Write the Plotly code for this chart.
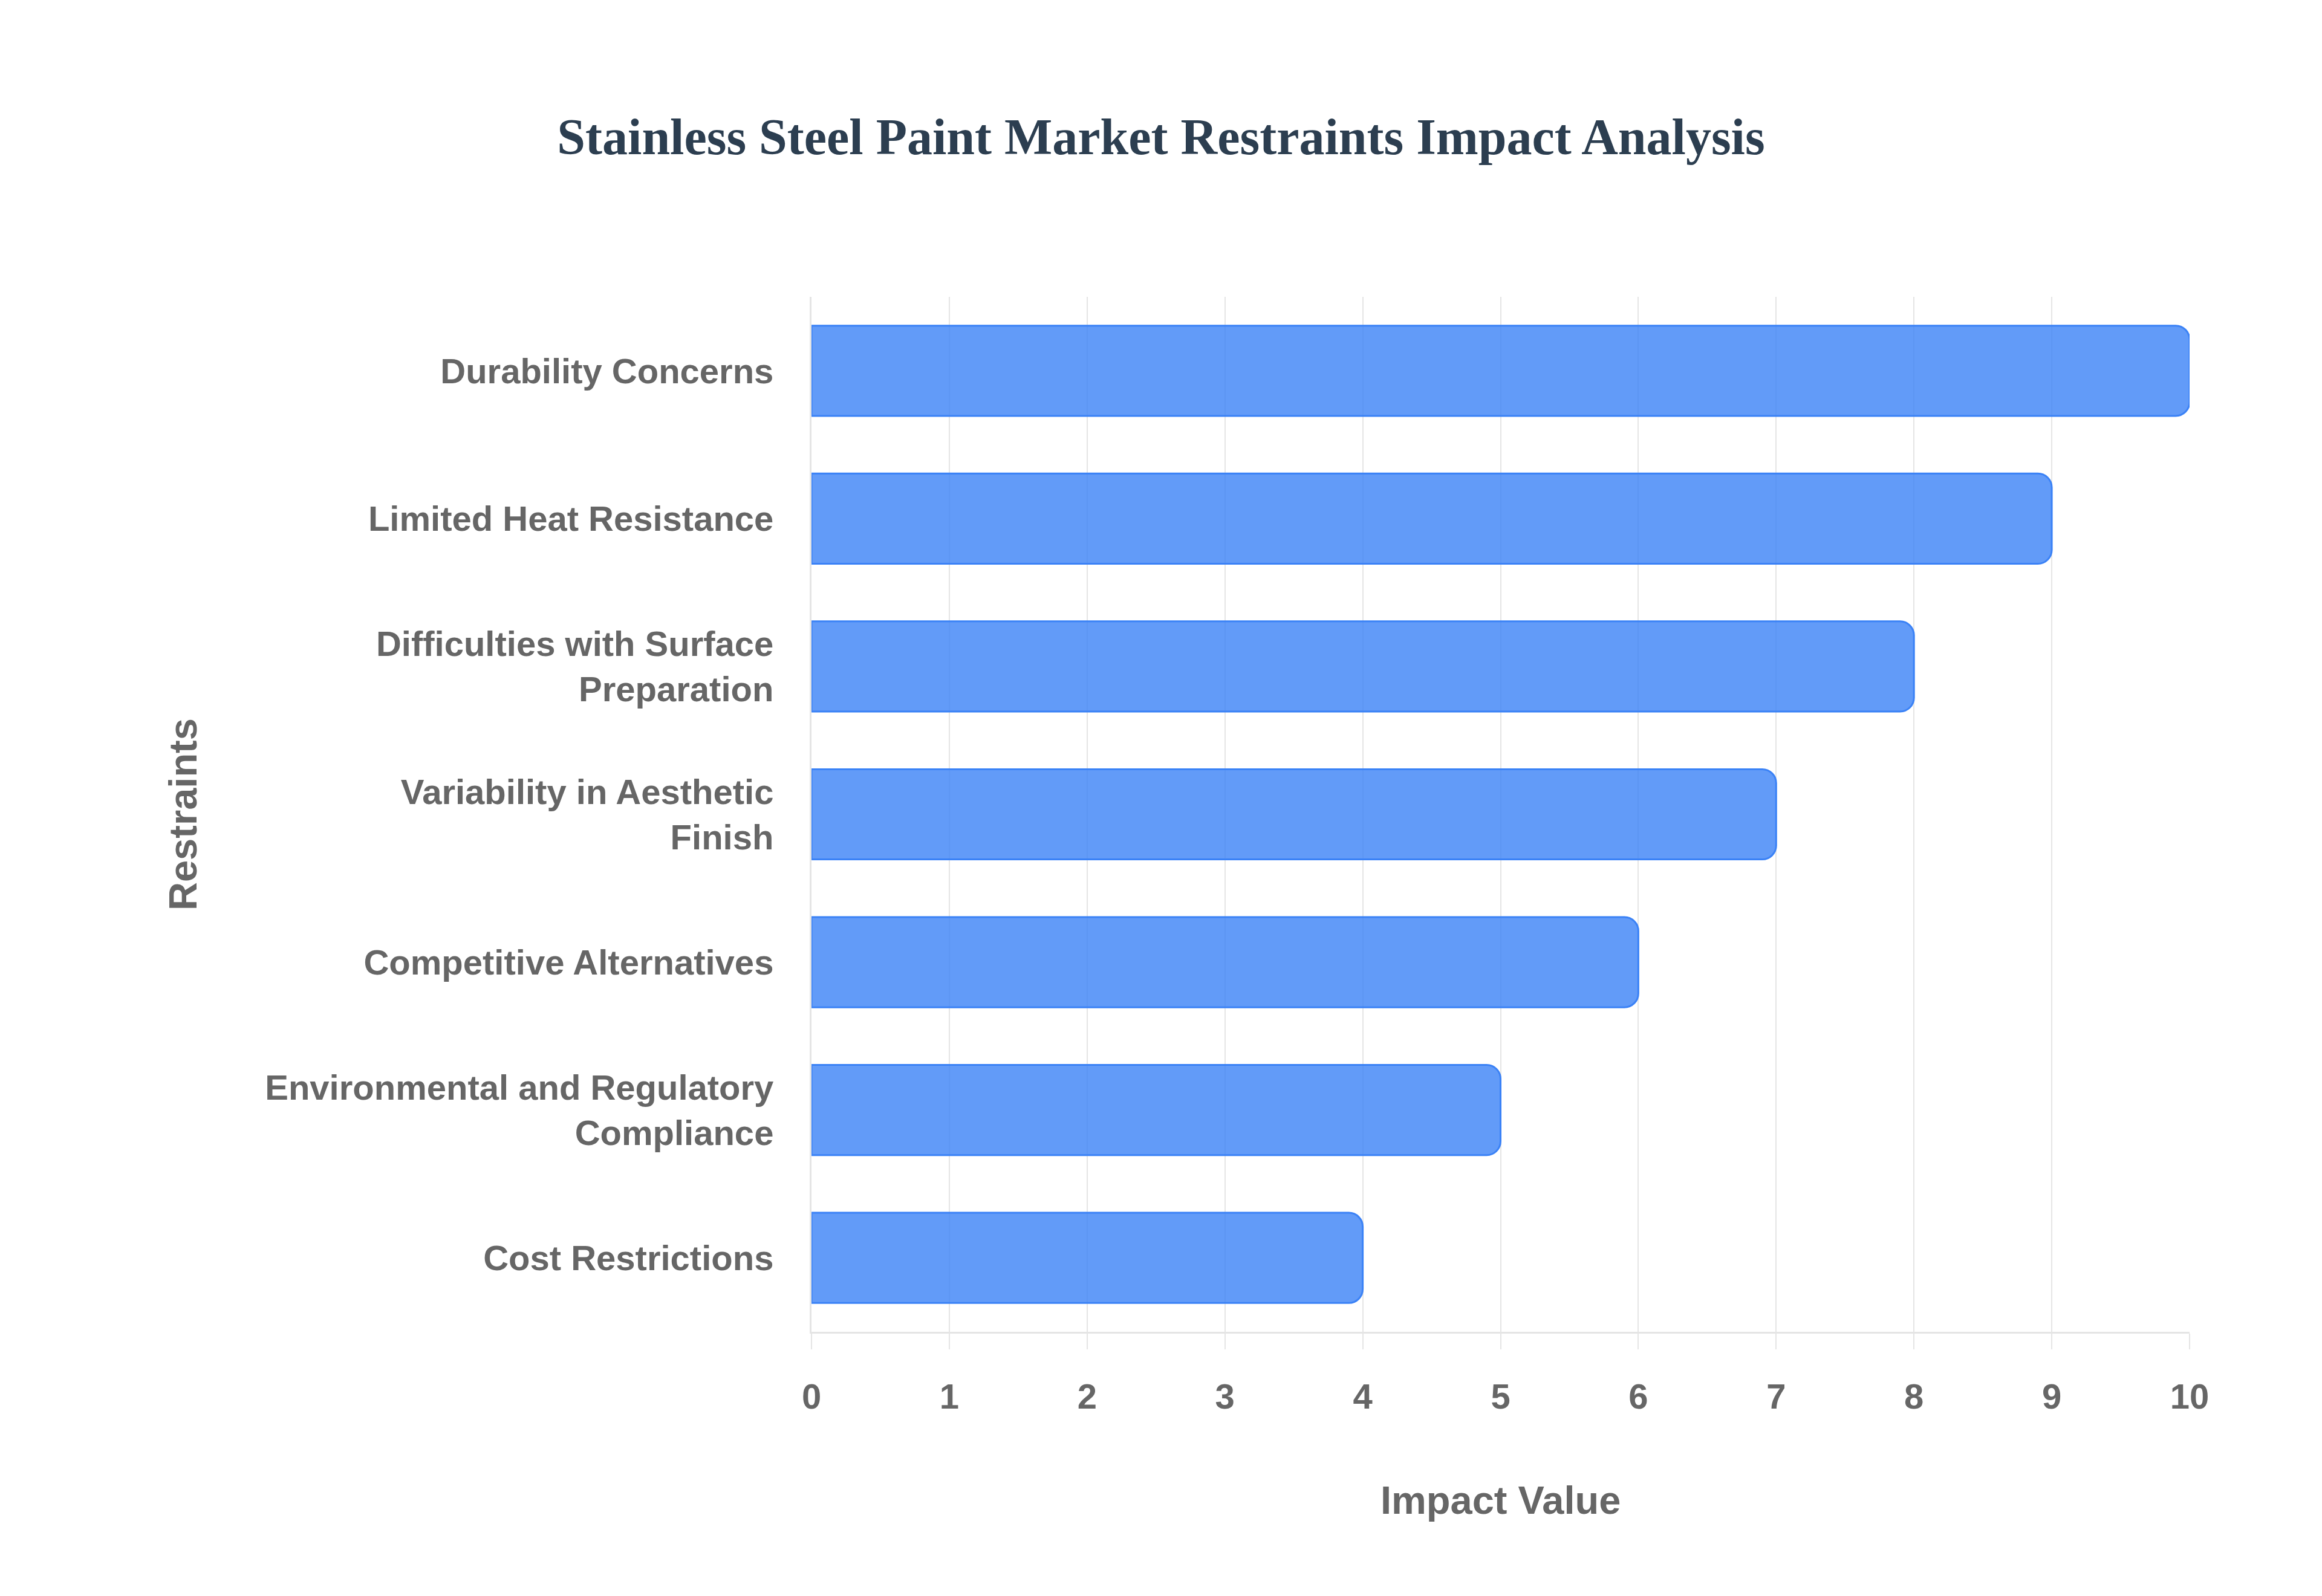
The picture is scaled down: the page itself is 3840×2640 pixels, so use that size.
import plotly.graph_objects as go

restraints = [
    "Durability Concerns",
    "Limited Heat Resistance",
    "Difficulties with Surface<br>Preparation",
    "Variability in Aesthetic<br>Finish",
    "Competitive Alternatives",
    "Environmental and Regulatory<br>Compliance",
    "Cost Restrictions",
]
impact = [10, 9, 8, 7, 6, 5, 4]
x_ticks = list(range(0, 11))

W, H = 3840, 2640
L, R, T, B = 1334, 227, 483, 445
grey = "#666666"
grid = "#e5e5e5"
sans = "Liberation Sans, Arial, sans-serif"

fig = go.Figure()
fig.add_trace(
    go.Bar(
        x=impact,
        y=restraints,
        orientation="h",
        marker=dict(
            color="rgba(59,130,246,0.8)",
            line=dict(color="rgb(59,130,246)", width=3),
            cornerradius=23,
        ),
        hoverinfo="x+y",
    )
)

fig.update_layout(
    width=W,
    height=H,
    margin=dict(l=L, r=R, t=T, b=B),
    paper_bgcolor="white",
    plot_bgcolor="white",
    bargap=0.39,
    showlegend=False,
    title=dict(
        text="Stainless Steel Paint Market Restraints Impact Analysis",
        x=1912 / W,
        xanchor="center",
        y=1 - 218 / H,
        yanchor="middle",
        font=dict(family="Liberation Serif, Times New Roman, serif", size=84,
                  color="#2c3e50", weight="bold"),
    ),
    xaxis=dict(
        range=[0, 10],
        tickvals=x_ticks,
        showgrid=True,
        gridcolor=grid,
        gridwidth=2,
        zeroline=False,
        showline=True,
        linecolor=grid,
        linewidth=3,
        ticks="outside",
        ticklen=26,
        tickwidth=2,
        tickcolor=grid,
        ticklabelstandoff=28,
        tickfont=dict(family=sans, size=58, color=grey, weight="bold"),
        fixedrange=True,
    ),
    yaxis=dict(
        autorange="reversed",
        showgrid=False,
        zeroline=False,
        showline=True,
        linecolor=grid,
        linewidth=3,
        ticks="",
        ticklabelstandoff=48,
        tickfont=dict(family=sans, size=58, color=grey, weight="bold"),
        fixedrange=True,
    ),
    annotations=[
        dict(
            text="Impact Value",
            xref="paper", yref="paper",
            x=0.5, y=-(2473 - (H - B)) / (H - T - B),
            xanchor="center", yanchor="middle",
            showarrow=False,
            font=dict(family=sans, size=65, color=grey, weight="bold"),
        ),
        dict(
            text="Restraints",
            xref="paper", yref="paper",
            x=(294 - L) / (W - L - R), y=0.5,
            xanchor="center", yanchor="middle",
            textangle=-90,
            showarrow=False,
            font=dict(family=sans, size=65, color=grey, weight="bold"),
        ),
    ],
)

fig.write_html("out.html")
